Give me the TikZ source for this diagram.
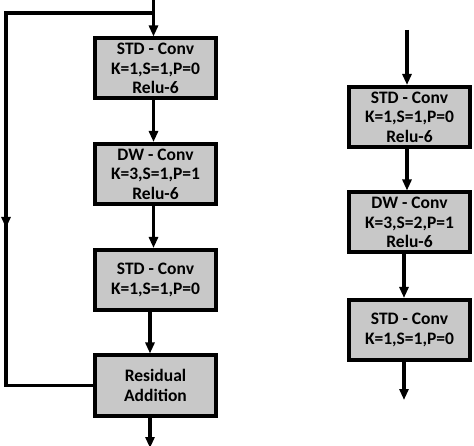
\documentclass[tikz,border=0pt]{standalone}
\usepackage{fontspec}
\setmainfont{Carlito}
\usetikzlibrary{arrows.meta}

\definecolor{boxgray}{RGB}{200,200,200}

\begin{document}
\begin{tikzpicture}[x=1pt,y=-1pt,
  block/.style={draw, fill=boxgray, line width=4pt, minimum width=121pt,
    minimum height=60pt, align=center, inner sep=0pt,
    font=\bfseries\fontsize{17.5}{19.5}\selectfont},
  flow/.style={line width=3.6pt, -{Triangle[length=11pt,width=9pt]}},
  wire/.style={line width=3.6pt}]
  \useasboundingbox (0,0) rectangle (474,446);

  % left: block with residual path
  \node[block] (lstd1) at (155.5,68.5) {STD - Conv\\K=1,S=1,P=0\\Relu-6};
  \node[block] (ldw)   at (155.5,174)  {DW - Conv\\K=3,S=1,P=1\\Relu-6};
  \node[block] (lstd2) at (155.5,280)  {STD - Conv\\K=1,S=1,P=0};
  \node[block] (res)   at (155.5,385.5) {Residual\\Addition};

  \coordinate (lin) at (153.5,-2);
  \coordinate (split) at (153.5,13);
  \coordinate (turn) at (6,228);
  \coordinate (lout) at (150,448);

  \draw[flow] (lin)--(lstd1.north -| lin);
  \draw[wire] (split) -| (turn) |- (res.west);
  \draw[flow] (split) -| (turn);
  \draw[flow] (lstd1.south -| split)--(ldw.north -| split);
  \draw[flow] (ldw.south -| split)--(lstd2.north -| split);
  \draw[flow] (lstd2.south -| lout)--(res.north -| lout);
  \draw[flow] (res.south -| lout)--(lout);

  % right: block with stride 2
  \node[block] (rstd1) at (409.5,117)   {STD - Conv\\K=1,S=1,P=0\\Relu-6};
  \node[block] (rdw)   at (409.5,222.5) {DW - Conv\\K=3,S=2,P=1\\Relu-6};
  \node[block] (rstd2) at (409.5,330)   {STD - Conv\\K=1,S=1,P=0};

  \coordinate (rin) at (407,30);
  \coordinate (rout) at (404,400);

  \draw[flow] (rin)--(rstd1.north -| rin);
  \draw[flow] (rstd1.south -| rin)--(rdw.north -| rin);
  \draw[flow] (rdw.south -| rout)--(rstd2.north -| rout);
  \draw[flow] (rstd2.south -| rout)--(rout);
\end{tikzpicture}
\end{document}
